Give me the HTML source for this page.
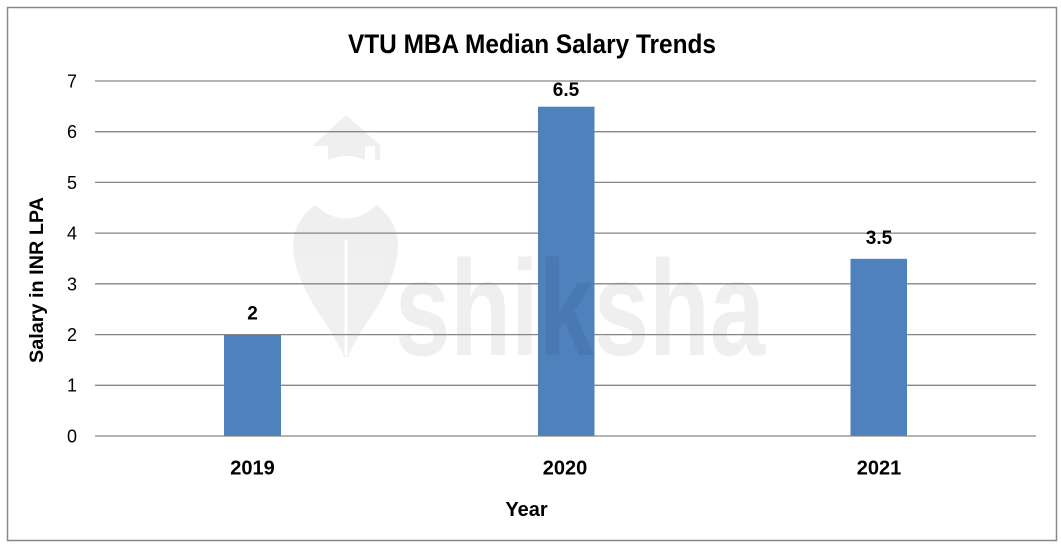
<!DOCTYPE html>
<html>
<head>
<meta charset="utf-8">
<style>
html,body{margin:0;padding:0;background:#fff;}
body{width:1061px;height:544px;overflow:hidden;}
svg{display:block;}
text{font-family:"Liberation Sans",Arial,sans-serif;}
</style>
</head>
<body>
<svg width="1061" height="544" viewBox="0 0 1061 544" xmlns="http://www.w3.org/2000/svg">
  <defs><clipPath id="kclip"><rect x="538" y="106" width="57" height="330"/></clipPath></defs>
  <rect x="0" y="0" width="1061" height="544" fill="#fff"/>
  <rect x="7.5" y="7.5" width="1049" height="533" fill="#fff" stroke="#888" stroke-width="1.5"/>

  <!-- Title -->
  <text x="532" y="53" text-anchor="middle" font-size="27" font-weight="bold" fill="#000" textLength="368" lengthAdjust="spacingAndGlyphs">VTU MBA Median Salary Trends</text>

  <!-- watermark -->
  <g fill="#000" opacity="0.06">
    <path d="M346,115 L312,146 L328,146 L328,160 Q346,152 365,160 L365,146 L375,146 L375,160 L380,160 L380,146 L381,146 Z"/>
    <path d="M293,245 Q293,222 315,205 Q346,232 377,205 Q398,222 398,245 Q398,275 372,315 Q355,340 348,357 L344,357 Q337,340 320,315 Q293,275 293,245 Z"/>
    <text x="395" y="355" font-size="136" font-weight="bold" textLength="370" lengthAdjust="spacingAndGlyphs">shiksha</text>
  </g>
  <line x1="346" y1="240" x2="346" y2="356" stroke="#fff" stroke-width="3"/>

  <!-- gridlines -->
  <g stroke="#868686" stroke-width="1.3">
    <line x1="95" y1="81" x2="1036" y2="81"/>
    <line x1="95" y1="131.7" x2="1036" y2="131.7"/>
    <line x1="95" y1="182.4" x2="1036" y2="182.4"/>
    <line x1="95" y1="233.1" x2="1036" y2="233.1"/>
    <line x1="95" y1="283.8" x2="1036" y2="283.8"/>
    <line x1="95" y1="334.6" x2="1036" y2="334.6"/>
    <line x1="95" y1="385.3" x2="1036" y2="385.3"/>
    <line x1="95" y1="436" x2="1036" y2="436"/>
  </g>
  <!-- bars -->
  <g fill="#4f81bd">
    <rect x="224" y="334.9" width="57" height="100.8"/>
    <rect x="538" y="106.7" width="56.5" height="329"/>
    <rect x="850.5" y="258.8" width="56.5" height="176.8"/>
  </g>
  <g fill="#000" opacity="0.05">
    <text x="395" y="355" font-size="136" font-weight="bold" textLength="370" lengthAdjust="spacingAndGlyphs" clip-path="url(#kclip)">shiksha</text>
  </g>

  <!-- y tick labels -->
  <g font-size="18" fill="#000" text-anchor="end">
    <text x="77" y="87.5">7</text>
    <text x="77" y="138.2">6</text>
    <text x="77" y="188.9">5</text>
    <text x="77" y="239.6">4</text>
    <text x="77" y="290.3">3</text>
    <text x="77" y="341">2</text>
    <text x="77" y="391.7">1</text>
    <text x="77" y="442.4">0</text>
  </g>

  <!-- data labels -->
  <g font-size="19" font-weight="bold" fill="#000" text-anchor="middle">
    <text x="252.5" y="319.5">2</text>
    <text x="566" y="96">6.5</text>
    <text x="879" y="244">3.5</text>
  </g>

  <!-- x labels -->
  <g font-size="20" font-weight="bold" fill="#000" text-anchor="middle">
    <text x="252.5" y="474.3">2019</text>
    <text x="565" y="474.3">2020</text>
    <text x="879" y="474.3">2021</text>
  </g>

  <!-- axis titles -->
  <text x="526.5" y="516" font-size="20" font-weight="bold" fill="#000" text-anchor="middle">Year</text>
  <text transform="translate(43,280) rotate(-90)" x="0" y="0" font-size="19.5" font-weight="bold" fill="#000" text-anchor="middle" textLength="166" lengthAdjust="spacingAndGlyphs">Salary in INR LPA</text>
</svg>
</body>
</html>
